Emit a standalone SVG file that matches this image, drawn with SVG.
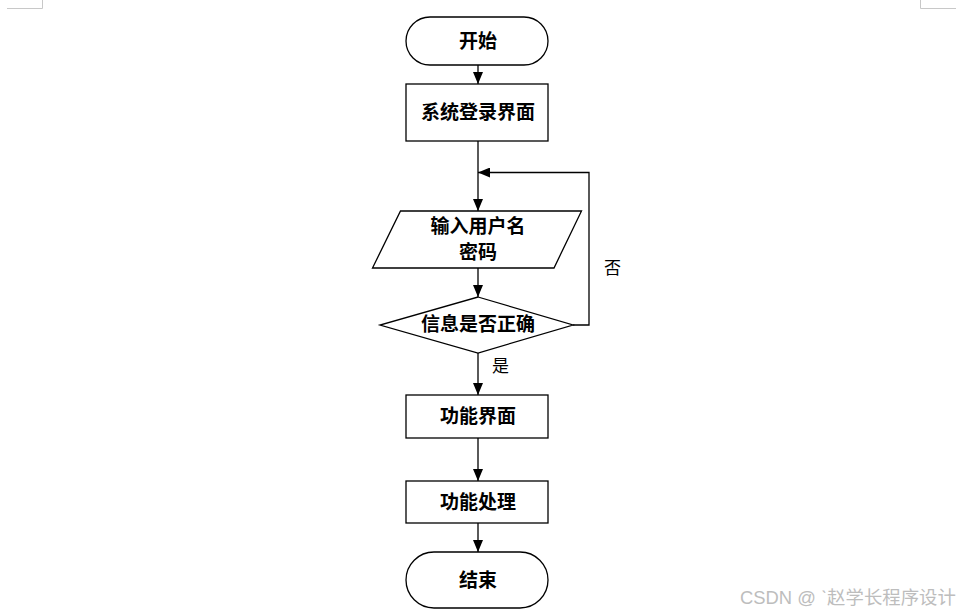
<svg xmlns="http://www.w3.org/2000/svg" width="965" height="615" viewBox="0 0 965 615">
<defs>
<style>
.shape{fill:#fff;stroke:#000;stroke-width:1.3}
.t{font-family:"Liberation Serif","Noto Sans CJK SC",serif;font-size:19px;font-weight:700;fill:#000;text-anchor:middle}
.lbl{font-family:"Liberation Serif","Noto Sans CJK SC",serif;font-size:17px;fill:#000}
.conn{fill:none;stroke:#000;stroke-width:1.3}
.corner{fill:none;stroke:#c8c8c8;stroke-width:1}
.wm{font-family:"Liberation Sans","Noto Sans CJK SC",sans-serif;font-size:18.4px;fill:#bdbdbd}
</style>
<marker id="arr" markerWidth="12" markerHeight="10" refX="12" refY="5" orient="auto" markerUnits="userSpaceOnUse">
<path d="M0,0 L12,5 L0,10 Z" fill="#000"/>
</marker>
</defs>
<rect width="965" height="615" fill="#fff"/>
<path class="corner" d="M7,8.5 H42.5 V0"/>
<path class="corner" d="M920.5,0 V8.5 H956"/>
<g id="connectors">
<line class="conn" x1="478" y1="65" x2="478" y2="84" marker-end="url(#arr)"/>
<line class="conn" x1="478" y1="141" x2="478" y2="211" marker-end="url(#arr)"/>
<line class="conn" x1="478" y1="268" x2="478" y2="297" marker-end="url(#arr)"/>
<polyline class="conn" points="573,325 589,325 589,172.5 478,172.5" marker-end="url(#arr)"/>
<line class="conn" x1="478" y1="353" x2="478" y2="395" marker-end="url(#arr)"/>
<line class="conn" x1="478" y1="438" x2="478" y2="481" marker-end="url(#arr)"/>
<line class="conn" x1="478" y1="523" x2="478" y2="552" marker-end="url(#arr)"/>
<text class="lbl" x="604" y="274">否</text>
<text class="lbl" x="492" y="372">是</text>
</g>
<g id="start">
<rect class="shape" x="406" y="17" width="142" height="48" rx="24" ry="24"/>
<text class="t" x="478" y="48">开始</text>
</g>
<g id="login">
<rect class="shape" x="406" y="84" width="142" height="57"/>
<text class="t" x="478" y="119">系统登录界面</text>
</g>
<g id="input">
<polygon class="shape" points="400.5,211 581.5,211 554,268 372.5,268"/>
<text class="t" x="478" y="233">输入用户名</text>
<text class="t" x="478" y="259">密码</text>
</g>
<g id="check">
<polygon class="shape" points="478,297 573,325 478,353 380,325"/>
<text class="t" x="478" y="331">信息是否正确</text>
</g>
<g id="func">
<rect class="shape" x="406" y="395" width="142" height="43"/>
<text class="t" x="478" y="423">功能界面</text>
</g>
<g id="proc">
<rect class="shape" x="406" y="481" width="142" height="42"/>
<text class="t" x="478" y="509">功能处理</text>
</g>
<g id="end">
<rect class="shape" x="406" y="552" width="142" height="56" rx="28" ry="28"/>
<text class="t" x="478" y="587">结束</text>
</g>
<text class="wm" x="740" y="604">CSDN @ ˋ赵学长程序设计</text>
</svg>
